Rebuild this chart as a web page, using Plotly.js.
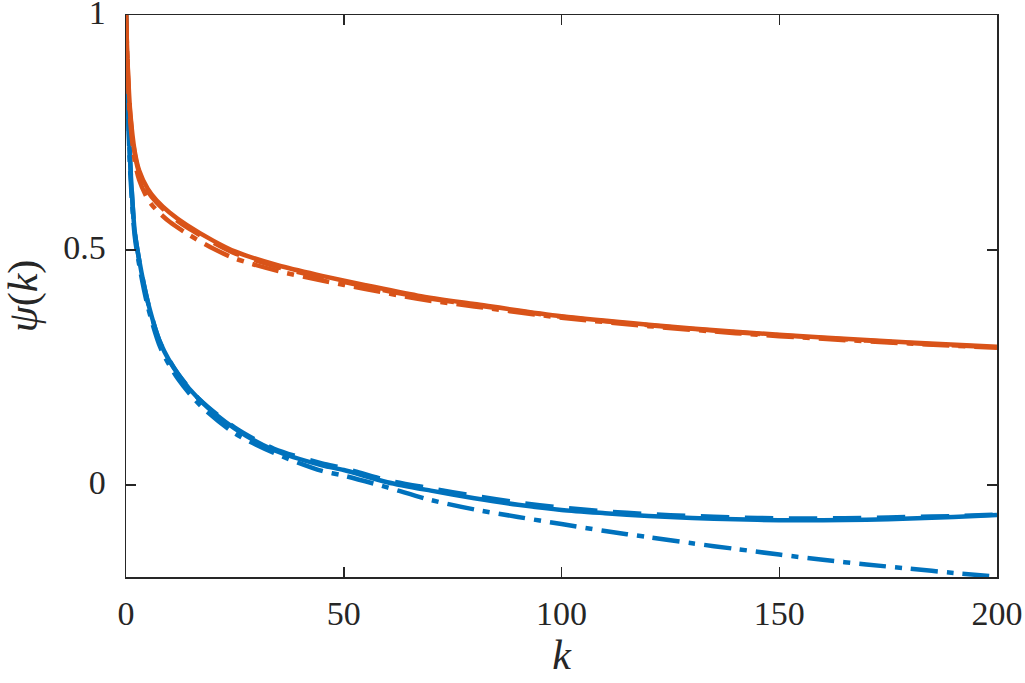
<!DOCTYPE html>
<html>
<head>
<meta charset="utf-8">
<script src="https://cdn.plot.ly/plotly-3.0.1.min.js"></script>
<style>html,body{margin:0;padding:0;background:#fff;}#chart{width:1025px;height:683px;}</style>
</head>
<body>
<div id="chart"></div>
<script>
// k values (lag)
const kOrange = [0, 0.5, 1, 2, 3, 5, 7, 10, 14, 20, 25, 35, 45, 55, 67, 80, 100, 120, 140, 160, 180, 200];
const orangeSolid   = [1.0, 0.87, 0.79, 0.71, 0.67, 0.63, 0.606, 0.58, 0.553, 0.52, 0.497, 0.467, 0.445, 0.425, 0.403, 0.385, 0.359, 0.341, 0.326, 0.314, 0.303, 0.294];
const orangeDashed  = [1.0, 0.865, 0.785, 0.705, 0.665, 0.625, 0.601, 0.575, 0.548, 0.516, 0.493, 0.463, 0.442, 0.422, 0.401, 0.383, 0.358, 0.340, 0.325, 0.313, 0.302, 0.293];
const orangeDashDot = [1.0, 0.85, 0.77, 0.69, 0.65, 0.608, 0.585, 0.56, 0.535, 0.503, 0.482, 0.455, 0.435, 0.417, 0.396, 0.380, 0.356, 0.338, 0.323, 0.311, 0.301, 0.292];

const kBlue = [0, 0.5, 1, 2, 3, 5, 8, 12, 17, 25, 34, 45, 50, 60, 70, 80, 90, 100, 110, 120, 130, 140, 150, 160, 170, 180, 190, 200];
const blueSolid   = [1.0, 0.80, 0.68, 0.54, 0.48, 0.39, 0.30, 0.235, 0.18, 0.12, 0.074, 0.042, 0.032, 0.006, -0.012, -0.028, -0.042, -0.053, -0.060, -0.066, -0.070, -0.073, -0.075, -0.075, -0.074, -0.071, -0.068, -0.064];
const blueDashed  = [1.0, 0.80, 0.68, 0.54, 0.48, 0.39, 0.30, 0.236, 0.181, 0.122, 0.077, 0.046, 0.036, 0.010, -0.007, -0.023, -0.037, -0.048, -0.056, -0.062, -0.066, -0.069, -0.071, -0.071, -0.070, -0.068, -0.066, -0.063];
const blueDashDot = [1.0, 0.79, 0.66, 0.53, 0.47, 0.38, 0.29, 0.225, 0.17, 0.11, 0.068, 0.030, 0.020, -0.005, -0.032, -0.052, -0.068, -0.083, -0.098, -0.111, -0.124, -0.136, -0.148, -0.159, -0.169, -0.178, -0.187, -0.195];

const xTicks = [0, 50, 100, 150, 200];
const xTickText = ['0', '50', '100', '150', '200'];
const yTicks = [0, 0.5, 1];
const yTickText = ['0', '0.5', '1'];

const BLUE = '#0072BD', ORANGE = '#D95319';
const LW = 4.5;
function tr(x, y, color, dash) {
  return {x: x, y: y, type: 'scatter', mode: 'lines',
    line: {color: color, width: LW, dash: dash, shape: 'spline', smoothing: 0.8},
    hoverinfo: 'skip', showlegend: false};
}
const data = [
  tr(kBlue, blueDashDot, BLUE, '27px,9px,7px,9px'),
  tr(kBlue, blueDashed, BLUE, '28px,16px'),
  tr(kBlue, blueSolid, BLUE, 'solid'),
  tr(kOrange, orangeDashDot, ORANGE, '27px,9px,7px,9px'),
  tr(kOrange, orangeDashed, ORANGE, '28px,16px'),
  tr(kOrange, orangeSolid, ORANGE, 'solid')
];
const FONT = "'Liberation Serif', 'DejaVu Serif', serif";
const axBase = {
  showline: true, mirror: 'ticks', linecolor: '#262626', linewidth: 1.5,
  ticks: 'inside', ticklen: 10, tickwidth: 1.5, tickcolor: '#262626',
  showgrid: false, zeroline: false, ticklabeloverflow: 'allow',
  tickfont: {family: FONT, size: 34, color: '#262626'}
};
const layout = {
  width: 1025, height: 683,
  margin: {l: 126, r: 28, t: 15, b: 106},
  paper_bgcolor: '#fff', plot_bgcolor: '#fff',
  font: {family: FONT},
  xaxis: Object.assign({}, axBase, {
    range: [0, 200], tickvals: xTicks, ticktext: xTickText,
    ticklabelstandoff: 6,
    title: {text: '<i>k</i>', font: {family: FONT, size: 42, color: '#262626'}, standoff: 0}
  }),
  yaxis: Object.assign({}, axBase, {
    range: [-0.1957, 1], tickvals: yTicks, ticktext: yTickText,
    ticklabelstandoff: 12, ticklabelshift: -3,
    title: {text: '<i>ψ</i>(<i>k</i>)', font: {family: FONT, size: 42, color: '#262626'}, standoff: 16}
  })
};
Plotly.newPlot('chart', data, layout, {staticPlot: true, displayModeBar: false});
</script>
</body>
</html>
